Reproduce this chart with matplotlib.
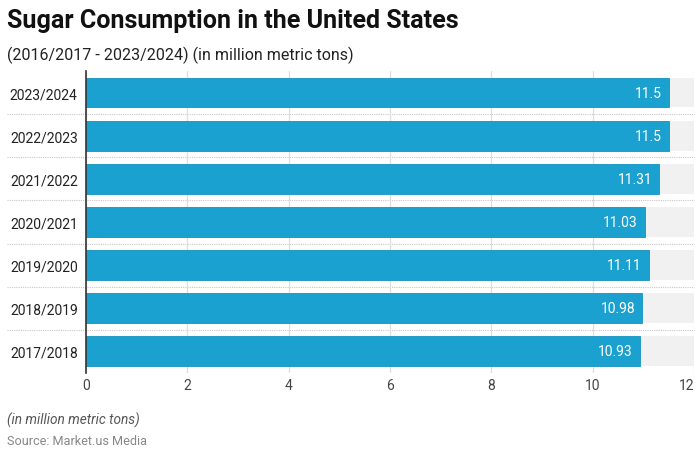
import matplotlib.pyplot as plt

# sugar consumption, million metric tons (bottom to top)
years = ['2017/2018', '2018/2019', '2019/2020', '2020/2021', '2021/2022', '2022/2023', '2023/2024']
values = [10.93, 10.98, 11.11, 11.03, 11.31, 11.5, 11.5]
value_labels = ['10.93', '10.98', '11.11', '11.03', '11.31', '11.5', '11.5']
xticks = [0, 2, 4, 6, 8, 10, 12]

plt.rcParams['font.family'] = ['Roboto', 'DejaVu Sans']

fig = plt.figure(figsize=(6.99, 4.56), dpi=100)
ax = fig.add_axes([0.123, 0.180, 0.870, 0.662])

pos = list(range(len(years)))
xmax = 12
# grey track behind each bar
ax.barh(pos, [xmax] * len(pos), height=0.69, color='#f1f1f1', zorder=1)
ax.barh(pos, values, height=0.69, color='#1ba1cf', edgecolor='#1493bf', linewidth=0.6, zorder=3)

for p, v, lab in zip(pos, values, value_labels):
    ax.text(v - 0.14, p, lab, ha='right', va='center', color='white', fontsize=10, zorder=4)

# dotted separators between rows, reaching into the label area
for p in pos[:-1]:
    ax.plot([-1.56, xmax], [p + 0.5, p + 0.5], color='#c8c8c8', linestyle=(0, (1, 1)),
            linewidth=0.8, clip_on=False, zorder=0)

ax.set_xlim(0, xmax)
ax.set_ylim(-0.5, len(years) - 0.5)
ax.set_xticks(xticks)
ax.set_yticks(pos)
ax.set_yticklabels(years)
ax.grid(axis='x', color='#dddddd', linewidth=0.9, zorder=0)
ax.set_axisbelow(True)
for s in ['top', 'right', 'bottom']:
    ax.spines[s].set_visible(False)
ax.spines['left'].set_color('#333333')
ax.spines['left'].set_linewidth(1.2)
ax.spines['left'].set_zorder(5)
ax.tick_params(axis='both', length=0, labelsize=10, colors='#222222')
ax.tick_params(axis='x', pad=4, colors='#444444')
ax.tick_params(axis='y', pad=6)
# keep the last tick label inside the figure
ax.get_xticklabels()[-1].set_horizontalalignment('right')

fig.text(0.010, 0.955, 'Sugar Consumption in the United States', fontsize=18.1,
         fontweight='bold', color='#111111', va='center')
fig.text(0.010, 0.879, '(2016/2017 - 2023/2024) (in million metric tons)', fontsize=11.5,
         color='#222222', va='center')
fig.text(0.010, 0.078, '(in million metric tons)', fontsize=9.8, style='italic',
         color='#555555', va='center')
fig.text(0.010, 0.032, 'Source: Market.us Media', fontsize=9.1, color='#888888', va='center')

fig.savefig('out.png', dpi=100)
